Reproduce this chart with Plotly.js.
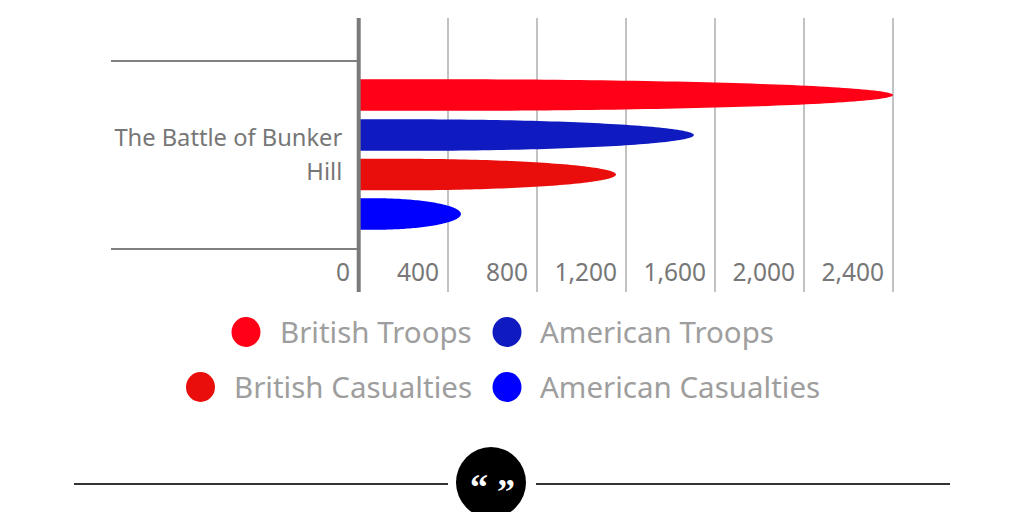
<!DOCTYPE html>
<html><head><meta charset="utf-8">
<script src="https://cdn.plot.ly/plotly-3.0.1.min.js"></script>
<style>html,body{margin:0;padding:0;background:#fff}#c{width:1024px;height:512px}</style></head>
<body><div id="c"></div>
<script>
const seriesNames = ["British Troops","American Troops","British Casualties","American Casualties"];
const seriesValues = [2400,1505,1155,458];
const seriesColors = ["#ff0016","#0f1bc0","#e90e0b","#0000ff"];
const categoryLines = ["The Battle of Bunker","Hill"];
const tickValues = [0,400,800,1200,1600,2000,2400];
const tickLabels = ["0","400","800","1,200","1,600","2,000","2,400"];

const FONT = "'Noto Sans', sans-serif";
const centres = [0.319,0.106,-0.104,-0.314];
const halfH = 0.084;
const PL = 359, PW = 536, PT = 18, PH = 274;
function px(x){return (x-PL)/PW;}
function py(y){return (PT+PH-y)/PH;}

// Bar outline with a long elliptical tip: derived from the value
function outline(v,c){
  const flat = 0.15*v, rx = 0.85*v, xs=[0], ys=[c+halfH];
  const N=120;
  for(let i=0;i<=N;i++){const a=i/N*Math.PI;
    xs.push(flat+rx*Math.sin(a)); ys.push(c+halfH*Math.cos(a));}
  xs.push(0); ys.push(c-halfH); xs.push(0); ys.push(c+halfH);
  return {xs,ys};
}
const traces = seriesValues.map((v,i)=>{
  const o=outline(v,centres[i]);
  return {type:"scatter",mode:"lines",x:o.xs,y:o.ys,fill:"toself",fillcolor:seriesColors[i],
    line:{width:0,color:seriesColors[i],simplify:false},name:seriesNames[i],hoverinfo:"name",showlegend:false};
});

const shapes=[];
[0.5,-0.5].forEach(y=>shapes.push({type:"line",xref:"paper",yref:"y",x0:px(111),x1:px(358),y0:y,y1:y,
  line:{color:"#808080",width:2},layer:"below"}));
shapes.push({type:"line",xref:"paper",yref:"paper",x0:px(358.7),x1:px(358.7),y0:0,y1:1,line:{color:"#7a7a7a",width:4}});
const legendDots=[[246,332],[507,332],[200.5,387],[507,387]];
legendDots.forEach((d,i)=>shapes.push({type:"circle",xref:"paper",yref:"paper",
  x0:px(d[0]-14.5),x1:px(d[0]+14.5),y0:py(d[1]-15),y1:py(d[1]+15),
  fillcolor:seriesColors[i],line:{width:0}}));
[[74,448],[536,950]].forEach(r=>shapes.push({type:"line",xref:"paper",yref:"paper",
  x0:px(r[0]),x1:px(r[1]),y0:py(484),y1:py(484),line:{color:"#333333",width:2}}));
shapes.push({type:"circle",xref:"paper",yref:"paper",x0:px(456),x1:px(526),y0:py(447),y1:py(518),
  fillcolor:"#000000",line:{width:0}});

const legendText=[[279,331],[539,331],[233,386],[539,386]];
const annotations=seriesNames.map((n,i)=>({xref:"paper",yref:"paper",x:px(legendText[i][0]),y:py(legendText[i][1]),
  xanchor:"left",yanchor:"middle",showarrow:false,text:n,font:{family:FONT,size:29.5,color:"#9e9e9e"},borderpad:0}));
[["\u201C",478.5,466],["\u201D",505.5,471]].forEach(q=>annotations.push({xref:"paper",yref:"paper",
  x:px(q[1]),y:py(q[2]),xanchor:"center",yanchor:"top",showarrow:false,borderpad:0,
  text:"<b>"+q[0]+"</b>",font:{family:"'Liberation Serif', serif",size:36,color:"#ffffff"}}));

Plotly.newPlot("c",traces,{
  width:1024,height:512,paper_bgcolor:"#fff",plot_bgcolor:"#fff",showlegend:false,
  margin:{l:PL,r:1024-PL-PW,t:PT,b:512-PT-PH,pad:0},
  xaxis:{range:[0,2400*PW/534],tickvals:tickValues,ticktext:tickLabels,showgrid:true,gridcolor:"#c2c2c2",gridwidth:2,
    zeroline:false,showline:false,ticks:"",ticklabelposition:"inside left",ticklabeloverflow:"allow",ticklabelshift:-9,
    tickfont:{family:FONT,size:24.5,color:"#777777"}},
  yaxis:{range:[-0.729,0.729],tickvals:[0.0904,-0.0904],ticktext:categoryLines,showgrid:false,zeroline:false,showline:false,
    ticks:"outside",ticklen:11,tickcolor:"rgba(0,0,0,0)",tickfont:{family:FONT,size:23.7,color:"#777777"}},
  shapes,annotations
},{displayModeBar:false,staticPlot:true});
</script></body></html>
